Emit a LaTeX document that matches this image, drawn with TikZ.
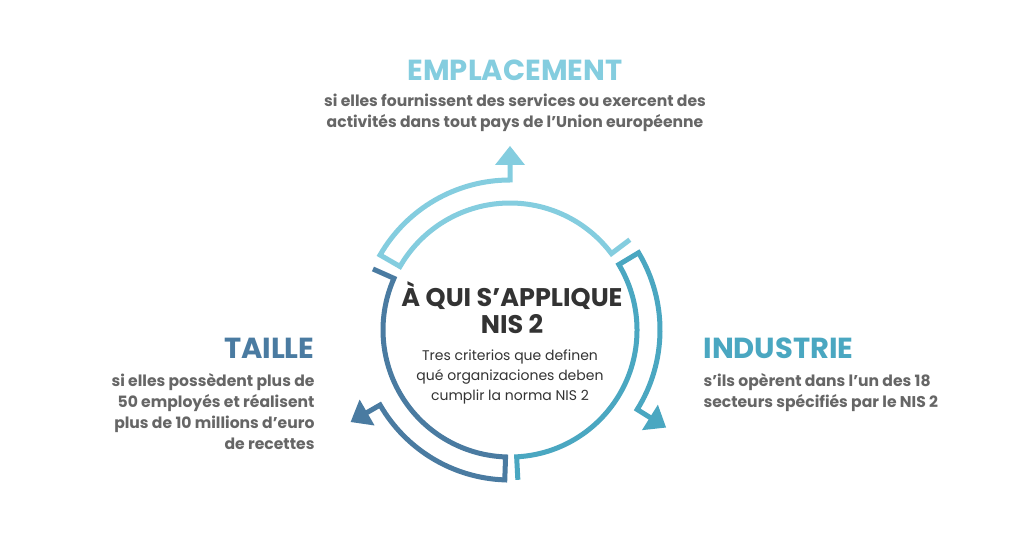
\documentclass[tikz,border=0pt]{standalone}
\usepackage{fontspec}
\setmainfont{Poppins}
\usetikzlibrary{calc}
\definecolor{cL}{HTML}{84CDDF}
\definecolor{cT}{HTML}{4AA7C1}
\definecolor{cD}{HTML}{4A7BA1}
\definecolor{gr}{HTML}{666666}
\definecolor{dk}{HTML}{333333}
\tikzset{
 band/.style={line width=5pt,line join=miter,line cap=butt},
 head/.style={font=\fontsize{29}{32}\selectfont\bfseries},
 body/.style={font=\fontsize{15.6}{21}\selectfont\bfseries,text=gr},
}
\newcommand{\circarrow}[4]{% color, cap angle, stem angle, tick angle
 \draw[band,#1] (#4:150) -- (#4:127) arc[start angle=#4,end angle=#2,radius=127]
   -- (#2:150) arc[start angle=#2,end angle=#3,radius=150] -- (#3:166);
 \fill[#1] (#3:184) -- ($(#3:165)+(#3+90:15)$) -- ($(#3:165)+(#3-90:15)$) -- cycle;
}
\begin{document}
\begin{tikzpicture}[x=1pt,y=1pt]
\useasboundingbox (0,0) rectangle (1024,536);
\fill[white] (0,0) rectangle (1024,536);
\begin{scope}[shift={(510,206)}]
\circarrow{cL}{150}{90}{37}
\circarrow{cT}{31}{-32}{-87}
\circarrow{cD}{268}{210}{156}
\end{scope}
\node[head,text=cL] (t1) at (515,466) {EMPLACEMENT};
\node[body,align=center] (b1) at (515,423) {si elles fournissent des services ou exercent des\\activités dans tout pays de l’Union européenne};
\node[head,text=cT,anchor=west] (t2) at (700,188) {INDUSTRIE};
\node[body,align=left,anchor=north west] (b2) at (700,166) {s'ils opèrent dans l'un des 18\\secteurs spécifiés par le NIS 2};
\node[head,text=cD,anchor=east] (t3) at (318,188) {TAILLE};
\node[body,align=right,anchor=north east] (b3) at (318,166) {si elles possèdent plus de\\50 employés et réalisent\\plus de 10 millions d’euro\\de recettes};
\node[font=\fontsize{25.5}{27}\selectfont\bfseries,text=dk,align=center] (c1) at (512,228) {À QUI S’APPLIQUE\\NIS 2};
\node[font=\fontsize{14}{20}\selectfont,text=dk,align=center] (c2) at (510,159) {Tres criterios que definen\\qué organizaciones deben\\cumplir la norma NIS 2};
\end{tikzpicture}
\end{document}
